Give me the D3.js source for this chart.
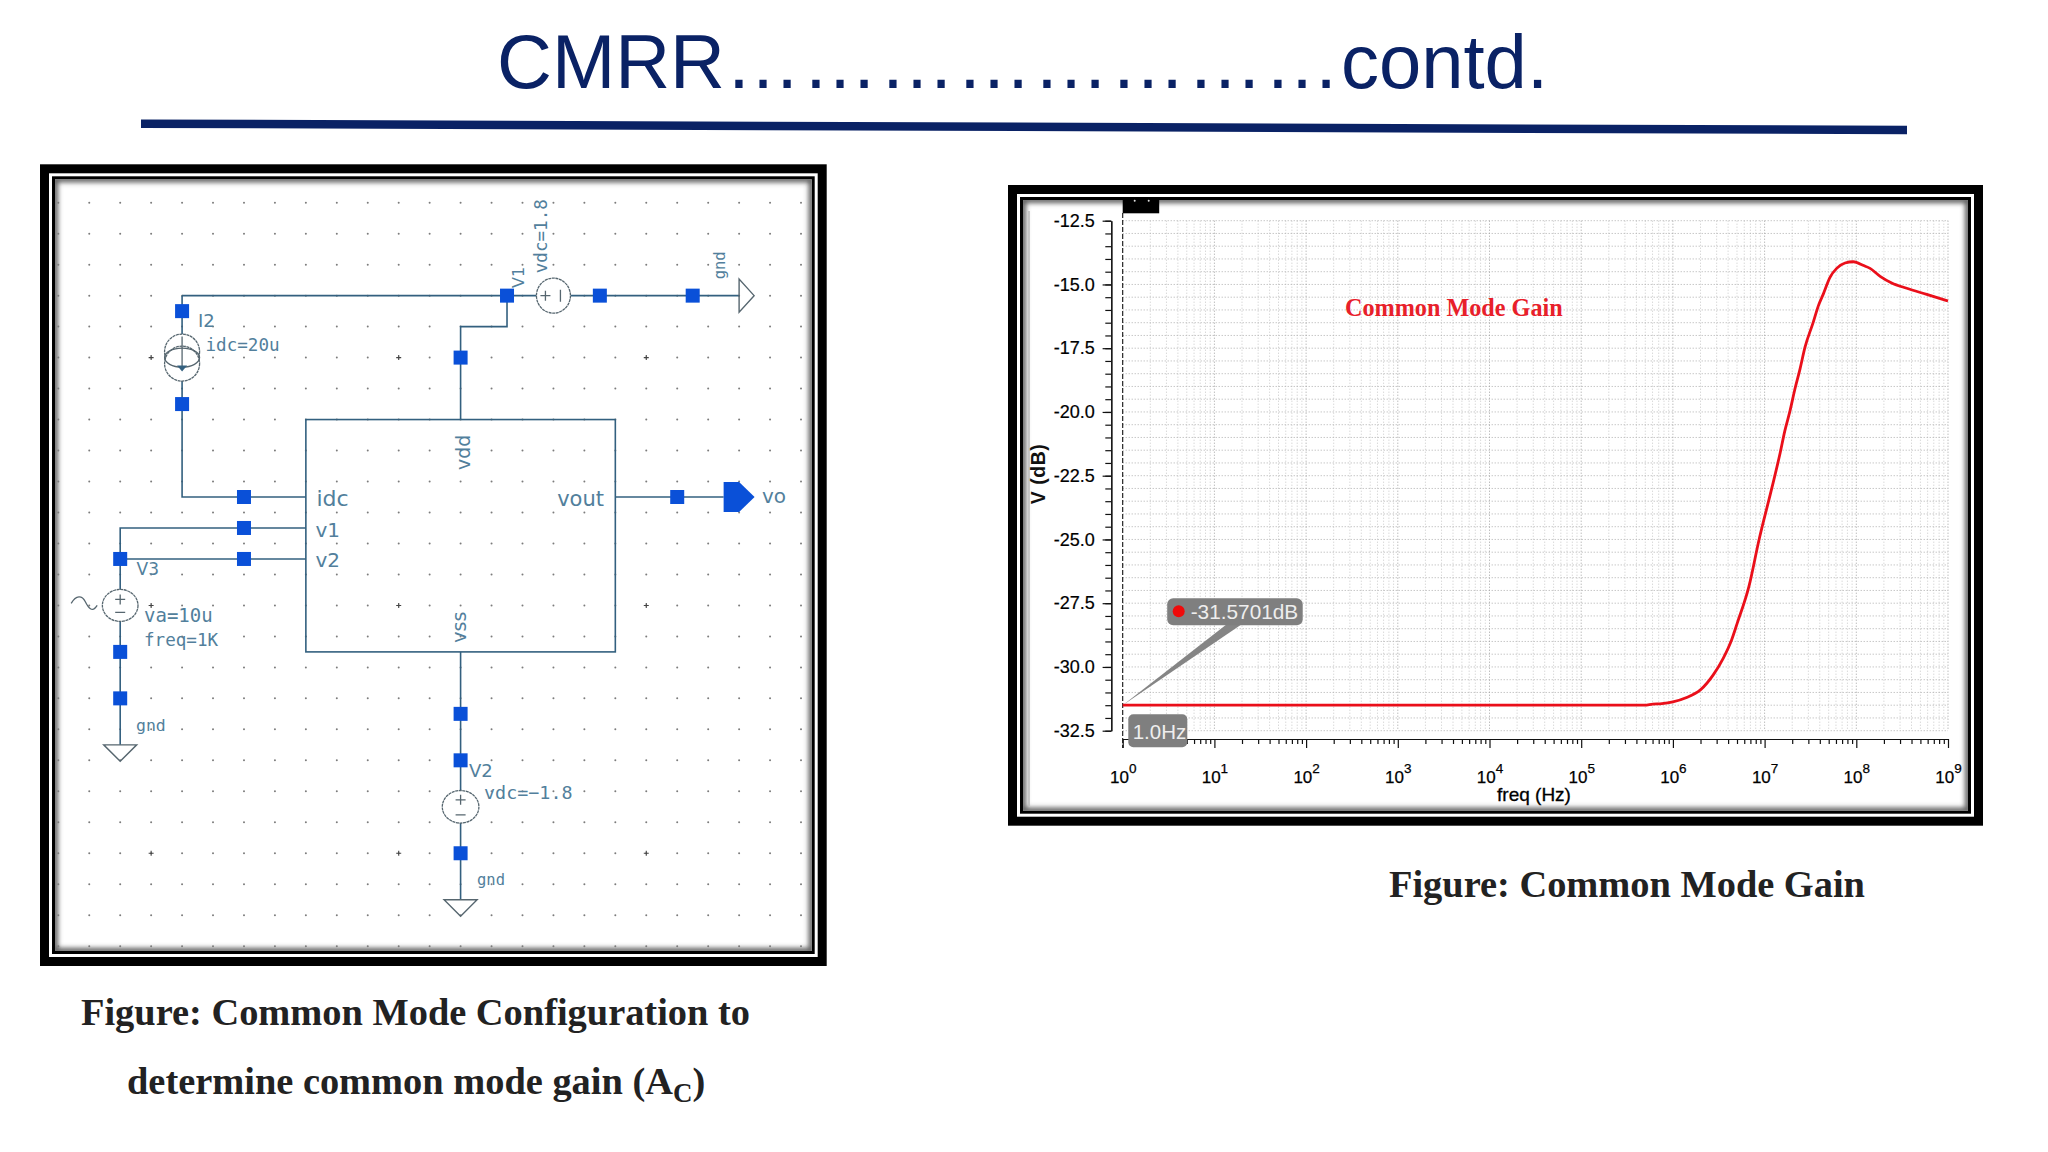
<!DOCTYPE html>
<html>
<head>
<meta charset="utf-8">
<script src="https://cdnjs.cloudflare.com/ajax/libs/d3/7.8.5/d3.min.js"></script>
<style>
  html, body { margin: 0; background: #fff; }
  svg { display: block; }
</style>
</head>
<body>
<div id="chart"></div>
<script>
// gain curve
const freqExp = [0, 2, 4, 5.69, 5.78, 5.88, 6, 6.15, 6.3, 6.44, 6.55, 6.64, 6.7, 6.83, 6.94, 7.08, 7.17, 7.22, 7.277, 7.33, 7.386, 7.44, 7.53, 7.586, 7.64, 7.713, 7.786, 7.877, 7.967, 8.08, 8.15, 8.26, 8.386, 8.55, 8.768, 9]
const gainDb = [-31.5, -31.5, -31.5, -31.5, -31.46, -31.44, -31.37, -31.2, -30.9, -30.31, -29.65, -28.94, -28.3, -26.83, -25, -22.97, -21.6, -20.75, -19.96, -19.11, -18.32, -17.47, -16.49, -15.84, -15.38, -14.72, -14.37, -14.16, -14.11, -14.26, -14.37, -14.68, -14.94, -15.15, -15.39, -15.65]

const yTicks = [-32.5, -30, -27.5, -25, -22.5, -20, -17.5, -15, -12.5]
const yTickLabels = ["-32.5", "-30.0", "-27.5", "-25.0", "-22.5", "-20.0", "-17.5", "-15.0", "-12.5"]
const decades = [0, 1, 2, 3, 4, 5, 6, 7, 8, 9]
const logSteps = [2, 3, 4, 5, 6, 7, 8, 9]

const markerValue = "-31.5701dB"
const markerFreq = "1.0Hz"

// schematic nets, in grid units of the schematic dots
const wires = [
  [[4, 3], [15.45, 3]], [[16.55, 3], [22, 3]],
  [[14.5, 3], [14.5, 4], [13, 4], [13, 7]],
  [[4, 3], [4, 4.25]], [[4, 5.75], [4, 9.5], [8, 9.5]],
  [[2, 11.5], [2, 10.5], [8, 10.5]], [[2, 11.5], [8, 11.5]],
  [[2, 11.5], [2, 12.5]], [[2, 13.5], [2, 17.5]],
  [[13, 14.5], [13, 19]], [[13, 20], [13, 22.5]],
  [[18, 9.5], [21.5, 9.5]]
]
const pins = [[4, 3.5], [4, 6.5], [6, 9.5], [6, 10.5], [6, 11.5], [2, 11.5], [2, 14.5], [2, 16], [14.5, 3], [17.5, 3], [20.5, 3], [13, 5], [13, 16.5], [13, 18], [13, 21], [20, 9.5]]
const grounds = [[2, 17.5, "down"], [13, 22.5, "down"], [22, 3, "right"]]
const bigDots = { cols: [3, 11, 19], rows: [5, 13, 21] }

const WIDTH = 2048
const HEIGHT = 1152
const NAVY = "#0a2265"
const WIRE = "#33607f"
const PIN = "#0a50d8"
const LABEL = "#527f9c"
const SANS = "'Liberation Sans', Arial, sans-serif"
const SERIF = "'Liberation Serif', 'Times New Roman', serif"
const MONO = "'DejaVu Sans Mono', monospace"

const svg = d3.select("#chart").append("svg")
  .attr("width", WIDTH)
  .attr("height", HEIGHT)

const defs = svg.append("defs")
defs.append("filter").attr("id", "soft")
  .attr("x", "-5%").attr("y", "-5%").attr("width", "110%").attr("height", "110%")
  .append("feGaussianBlur").attr("stdDeviation", 2.6)

// title and rule
const title = svg.append("text")
  .attr("x", 497).attr("y", 87.5)
  .attr("font-family", SANS).attr("font-size", 76).attr("fill", NAVY)
title.append("tspan").text("CMRR")
title.append("tspan").attr("letter-spacing", 1).text("\u2026".repeat(8))
title.append("tspan").text("contd.")

svg.append("line")
  .attr("x1", 141).attr("y1", 123.7).attr("x2", 1907).attr("y2", 130)
  .attr("stroke", NAVY).attr("stroke-width", 8.5)

// picture frame: black, white, black, then a soft inner shadow
function frame(id, x0, y0, x1, y1) {
  const layers = [[0, "#000"], [9, "#fff"], [12, "#000"], [15, "#fff"]]
  layers.forEach(l => {
    svg.append("rect")
      .attr("x", x0 + l[0]).attr("y", y0 + l[0])
      .attr("width", x1 - x0 - 2 * l[0]).attr("height", y1 - y0 - 2 * l[0])
      .attr("fill", l[1])
  })
  defs.append("clipPath").attr("id", id).append("rect")
    .attr("x", x0 + 15).attr("y", y0 + 15)
    .attr("width", x1 - x0 - 30).attr("height", y1 - y0 - 30)
  svg.append("g").attr("clip-path", `url(#${id})`)
    .append("rect")
    .attr("x", x0 + 15).attr("y", y0 + 15)
    .attr("width", x1 - x0 - 30).attr("height", y1 - y0 - 30)
    .attr("fill", "none").attr("stroke", "#5a5a5a").attr("stroke-width", 6)
    .attr("filter", "url(#soft)")
}

frame("clipLeft", 40, 164.3, 826.7, 966)
frame("clipRight", 1008, 185, 1983, 825.7)

// ---- schematic ----
const sx = d3.scaleLinear().domain([0, 24]).range([58.3, 801])
const sy = d3.scaleLinear().domain([0, 24]).range([202.7, 946.2])
const sch = svg.append("g")

const dots = d3.cross(d3.range(0, 25), d3.range(0, 25))
sch.selectAll("circle.dot").data(dots).enter().append("circle")
  .attr("class", "dot")
  .attr("cx", d => sx(d[0])).attr("cy", d => sy(d[1]))
  .attr("r", 1).attr("fill", "#7c7c7c")

sch.selectAll("path.big").data(d3.cross(bigDots.cols, bigDots.rows)).enter().append("path")
  .attr("class", "big")
  .attr("d", d => `M${sx(d[0]) - 2.5},${sy(d[1])}H${sx(d[0]) + 2.5}M${sx(d[0])},${sy(d[1]) - 2.5}V${sy(d[1]) + 2.5}`)
  .attr("stroke", "#444").attr("stroke-width", 1.1)

const wirePath = d3.line().x(d => sx(d[0])).y(d => sy(d[1]))
sch.selectAll("path.wire").data(wires).enter().append("path")
  .attr("class", "wire")
  .attr("d", wirePath)
  .attr("fill", "none").attr("stroke", WIRE).attr("stroke-width", 1.6)

// block
sch.append("rect")
  .attr("x", sx(8)).attr("y", sy(7))
  .attr("width", sx(18) - sx(8)).attr("height", sy(14.5) - sy(7))
  .attr("fill", "none").attr("stroke", WIRE).attr("stroke-width", 1.6)

sch.selectAll("rect.pin").data(pins).enter().append("rect")
  .attr("class", "pin")
  .attr("x", d => sx(d[0]) - 7).attr("y", d => sy(d[1]) - 7)
  .attr("width", 14).attr("height", 14)
  .attr("fill", PIN)

// ground triangles
sch.selectAll("path.gnd").data(grounds).enter().append("path")
  .attr("class", "gnd")
  .attr("d", d => {
    const x = sx(d[0]), y = sy(d[1])
    return d[2] === "down"
      ? `M${x - 16.5},${y}H${x + 16.5}L${x},${y + 16.5}Z`
      : `M${x},${y - 16.5}V${y + 16.5}L${x + 15},${y}Z`
  })
  .attr("fill", "none").attr("stroke", "#56666f").attr("stroke-width", 1.4)

// output arrow
sch.append("path")
  .attr("d", `M${sx(21.5)},${sy(9.5) - 15}H${sx(22)}L${sx(22.5)},${sy(9.5)}L${sx(22)},${sy(9.5) + 15}H${sx(21.5)}Z`)
  .attr("fill", PIN)

const SYMBOL = "#56666f"
function symbolLine(d) {
  sch.append("path").attr("d", d).attr("fill", "none")
    .attr("stroke", SYMBOL).attr("stroke-width", 1.3)
}
function source(cx, cy, rx, ry) {
  sch.append("ellipse")
    .attr("cx", cx).attr("cy", cy).attr("rx", rx).attr("ry", ry)
    .attr("fill", "#fff").attr("stroke", SYMBOL).attr("stroke-width", 1.3)
    .attr("stroke-dasharray", "3 0.6")
}

// V1, horizontal
source(sx(16), sy(3), 17, 17.5)
symbolLine(`M${sx(16) - 13},${sy(3)}h10M${sx(16) - 8},${sy(3) - 5}v10M${sx(16) + 7},${sy(3) - 6}v12`)
// V3
source(sx(2), sy(13), 17.8, 16)
symbolLine(`M${sx(2) - 5},${sy(13) - 6}h10M${sx(2)},${sy(13) - 11}v10M${sx(2) - 5},${sy(13) + 7}h10`)
symbolLine(`M${sx(2) - 49},${sy(13) - 2}c5,-9 11,-8 14,-2s7,12 12,4`)
// V2
source(sx(13), sy(19.5), 18.3, 16.3)
symbolLine(`M${sx(13) - 5},${sy(19.5) - 7}h10M${sx(13)},${sy(19.5) - 12}v10M${sx(13) - 5},${sy(19.5) + 8}h10`)
// I2, two overlapping circles with a down arrow
const i2x = sx(4), i2y = sy(5)
source(i2x, i2y - 6, 17.5, 17.5)
source(i2x, i2y + 6, 17.5, 17.5)
sch.append("ellipse").attr("cx", i2x).attr("cy", i2y).attr("rx", 17.5).attr("ry", 9.5)
  .attr("fill", "none").attr("stroke", SYMBOL).attr("stroke-width", 1.3)
symbolLine(`M${i2x},${i2y - 21}v30`)
sch.append("path").attr("d", `M${i2x - 5},${i2y + 8}h10l-5,6Z`).attr("fill", WIRE)

function schemText(txt, x, y, size, font, rotate) {
  const t = sch.append("text")
    .attr("font-family", font || MONO).attr("font-size", size).attr("fill", LABEL)
    .text(txt)
  if (rotate) t.attr("transform", `translate(${x},${y}) rotate(-90)`)
  else t.attr("x", x).attr("y", y)
  return t
}
const DV = "'DejaVu Sans', sans-serif"
schemText("I2", 198, 327, 18, DV)
schemText("idc=20u", 205.5, 351, 17.6)
schemText("idc", 316.5, 506, 22, DV)
schemText("v1", 315.5, 536.7, 20, DV)
schemText("v2", 315.5, 567.3, 20, DV)
schemText("vout", 604, 506, 21, DV).attr("text-anchor", "end")
schemText("vo", 762, 503.3, 20, DV)
schemText("V3", 136.5, 575, 17, DV)
schemText("va=10u", 144, 621.7, 19)
schemText("freq=1K", 144, 646, 17.6)
schemText("gnd", 136, 730.7, 16.5)
schemText("V2", 469, 776.7, 18, DV)
schemText("vdc=\u22121.8", 484, 799, 18.4)
schemText("gnd", 477, 885, 15.5)
schemText("vss", 466, 642.7, 19, DV, true)
schemText("vdd", 469.5, 470, 19, DV, true)
schemText("vdc=1.8", 547.3, 273.3, 17.6, MONO, true)
schemText("V1", 524, 288, 16, DV, true)
schemText("gnd", 725, 279.3, 15.5, MONO, true)

// ---- gain plot ----
const x = d3.scaleLog().domain([1, 1e9]).range([1122.7, 1948])
const y = d3.scaleLinear().domain([-32.5, -12.5]).range([730.7, 220.7])
const plot = svg.append("g")

// lighter rule down the left of the plot window
plot.append("line")
  .attr("x1", 1029).attr("x2", 1029).attr("y1", 211).attr("y2", 806)
  .attr("stroke", "#bdbdbd").attr("stroke-width", 1.6)

const decadeVals = decades.map(e => Math.pow(10, e))
const minorFreqs = d3.cross(decades.slice(0, -1), logSteps).map(d => d[1] * Math.pow(10, d[0]))
const halfDb = d3.range(-32.5, -12.4, 0.5)

// grid
plot.selectAll("line.vminor").data(minorFreqs).enter().append("line")
  .attr("class", "vminor")
  .attr("x1", d => x(d)).attr("x2", d => x(d))
  .attr("y1", y(-12.5)).attr("y2", y(-32.5))
  .attr("stroke", "#c8c8c8").attr("stroke-width", 1).attr("stroke-dasharray", "1 2")
plot.selectAll("line.hgrid").data(halfDb).enter().append("line")
  .attr("class", "hgrid")
  .attr("x1", x(1)).attr("x2", x(1e9))
  .attr("y1", d => y(d)).attr("y2", d => y(d))
  .attr("stroke", "#aeaeae").attr("stroke-width", 1).attr("stroke-dasharray", "1 2")
plot.selectAll("line.vmajor").data(decadeVals.slice(1)).enter().append("line")
  .attr("class", "vmajor")
  .attr("x1", d => x(d)).attr("x2", d => x(d))
  .attr("y1", y(-12.5)).attr("y2", y(-32.5))
  .attr("stroke", "#a0a0a0").attr("stroke-width", 1).attr("stroke-dasharray", "1 2")

// y axis
const yMinor = plot.append("g")
  .attr("transform", "translate(1111.3,0)")
  .call(d3.axisLeft(y).tickValues(halfDb).tickSize(6).tickSizeOuter(0).tickFormat(""))
const yAxis = plot.append("g")
  .attr("transform", "translate(1111.3,0)")
  .call(d3.axisLeft(y).tickValues(yTicks).tickSize(8.7).tickSizeOuter(0)
    .tickFormat((d, i) => yTickLabels[i]))
yAxis.selectAll("text")
  .attr("x", -16.6).attr("font-family", SANS).attr("font-size", 18).attr("fill", "#000")
  .attr("stroke", "#000").attr("stroke-width", 0.2)

// x axis
const xBase = 739
const xMinor = plot.append("g")
  .attr("transform", `translate(0,${xBase})`)
  .call(d3.axisBottom(x).tickValues(minorFreqs).tickSize(5).tickSizeOuter(0).tickFormat(""))
const xAxis = plot.append("g")
  .attr("transform", `translate(0,${xBase})`)
  .call(d3.axisBottom(x).tickValues(decadeVals).tickSize(9).tickSizeOuter(0).tickFormat(""))

xAxis.selectAll("text").each(function (d, i) {
  const t = d3.select(this)
    .attr("y", 44.3).attr("dy", 0)
    .attr("font-family", SANS).attr("fill", "#000")
    .attr("stroke", "#000").attr("stroke-width", 0.25)
  t.append("tspan").attr("font-size", 17).text("10")
  t.append("tspan").attr("font-size", 13.5).attr("dy", -10).text(decades[i])
})

;[yMinor, yAxis, xMinor, xAxis].forEach(a => {
  a.selectAll("path, line").attr("stroke", "#111").attr("stroke-width", 1.2)
})

// y label and x label
plot.append("text")
  .attr("transform", "translate(1045,474) rotate(-90)")
  .attr("text-anchor", "middle")
  .attr("font-family", SANS).attr("font-size", 19.5).attr("font-weight", "bold")
  .attr("letter-spacing", 0.5).attr("fill", "#111")
  .text("V (dB)")
plot.append("text")
  .attr("x", 1534).attr("y", 801)
  .attr("text-anchor", "middle")
  .attr("font-family", SANS).attr("font-size", 19).attr("fill", "#000")
  .attr("stroke", "#000").attr("stroke-width", 0.3)
  .text("freq (Hz)")

// marker stem and its black tab
plot.append("line")
  .attr("x1", x(1)).attr("x2", x(1)).attr("y1", 213).attr("y2", 748)
  .attr("stroke", "#111").attr("stroke-width", 1.1).attr("stroke-dasharray", "5 2")
plot.append("rect")
  .attr("x", x(1)).attr("y", 199.3).attr("width", 36.5).attr("height", 14)
  .attr("fill", "#000")
plot.selectAll("circle.tab").data([12, 26]).enter().append("circle")
  .attr("class", "tab")
  .attr("cx", d => x(1) + d).attr("cy", 200.8).attr("r", 1).attr("fill", "#ddd")

plot.append("text")
  .attr("x", 1345).attr("y", 316)
  .attr("font-family", SERIF).attr("font-size", 24.2).attr("font-weight", "bold")
  .attr("fill", "#e8202a")
  .text("Common Mode Gain")

// curve
const line = d3.line()
  .x((d, i) => x(Math.pow(10, freqExp[i])))
  .y(d => y(d))
  .curve(d3.curveMonotoneX)
plot.append("path")
  .datum(gainDb)
  .attr("d", line)
  .attr("fill", "none").attr("stroke", "#ea0f1a").attr("stroke-width", 2.8)
  .attr("stroke-linejoin", "round")

// marker callouts
const tipX = x(Math.pow(10, freqExp[0]))
const tipY = y(gainDb[0])
plot.append("path")
  .attr("d", `M${tipX},${tipY}L${tipX + 104},${tipY - 81}H${tipX + 119}Z`)
  .attr("fill", "#858585")
plot.append("rect")
  .attr("x", tipX + 44.5).attr("y", tipY - 107).attr("width", 135.5).attr("height", 27).attr("rx", 6)
  .attr("fill", "#7f7f7f")
plot.append("circle")
  .attr("cx", tipX + 56).attr("cy", tipY - 94).attr("r", 6).attr("fill", "#f00a0a")
plot.append("text")
  .attr("x", tipX + 68).attr("y", tipY - 86.5)
  .attr("font-family", SANS).attr("font-size", 20.8).attr("fill", "#eee")
  .text(markerValue)
plot.append("rect")
  .attr("x", tipX + 5.6).attr("y", tipY + 9).attr("width", 59).attr("height", 33).attr("rx", 5)
  .attr("fill", "#7f7f7f")
plot.append("text")
  .attr("x", tipX + 10).attr("y", tipY + 33.7)
  .attr("font-family", SANS).attr("font-size", 20.5).attr("fill", "#eee")
  .text(markerFreq)

// captions
const caption = (x0, y0, txt) => svg.append("text")
  .attr("x", x0).attr("y", y0)
  .attr("font-family", SERIF).attr("font-size", 38.4).attr("font-weight", "bold").attr("fill", "#222")
  .text(txt)

caption(81, 1025, "Figure: Common Mode Configuration to")
const second = caption(127, 1094, "determine common mode gain (A")
second.append("tspan").attr("font-size", 27).attr("dy", 8).text("C")
second.append("tspan").attr("dy", -8).text(")")
caption(1389, 897, "Figure: Common Mode Gain")
</script>
</body>
</html>
